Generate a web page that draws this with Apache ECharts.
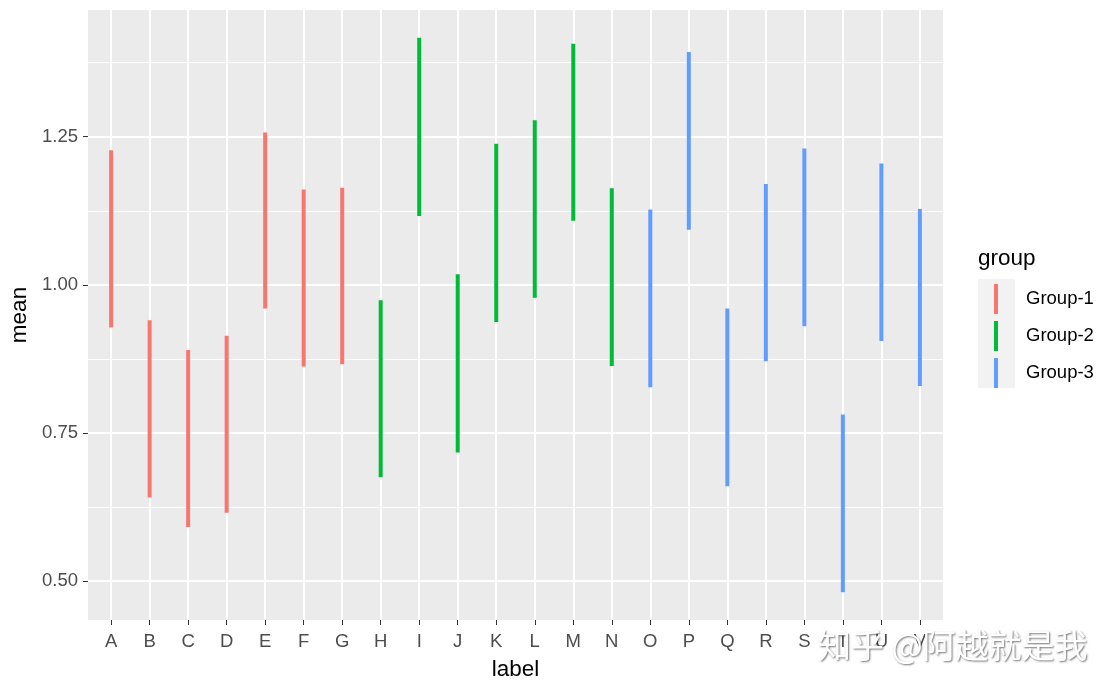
<!DOCTYPE html>
<html><head><meta charset="utf-8">
<script src="https://cdn.jsdelivr.net/npm/echarts@6/dist/echarts.min.js"></script>
<style>html,body{margin:0;padding:0;background:#fff}#c{width:1120px;height:692px}</style>
</head><body><div id="c"></div>
<script>
const categories = ['A','B','C','D','E','F','G','H','I','J','K','L','M','N','O','P','Q','R','S','T','U','V'];
const groupOf = ['Group-1','Group-1','Group-1','Group-1','Group-1','Group-1','Group-1',
  'Group-2','Group-2','Group-2','Group-2','Group-2','Group-2','Group-2',
  'Group-3','Group-3','Group-3','Group-3','Group-3','Group-3','Group-3','Group-3'];
const lower = [0.928,0.641,0.591,0.615,0.960,0.862,0.866,0.675,1.116,0.717,0.937,0.978,1.108,0.863,0.827,1.093,0.660,0.871,0.930,0.481,0.905,0.829];
const upper = [1.227,0.940,0.890,0.914,1.257,1.161,1.164,0.974,1.417,1.018,1.238,1.278,1.407,1.163,1.127,1.393,0.960,1.170,1.230,0.781,1.205,1.128];
const groupNames = ['Group-1','Group-2','Group-3'];
const groupColors = ['#F8766D','#00BA38','#619CFF'];
const yTicks = [0.5,0.75,1.0,1.25];
const yMinor = [0.625,0.875,1.125,1.375];
const yRange = [0.434,1.464];
const xRange = [-0.6,21.6];

const FONT = '"Liberation Sans", Arial, sans-serif';
const xIdx = categories.map((c,i)=>i);
const chart = echarts.init(document.getElementById('c'));

const series = groupNames.map((g,gi)=>({
  name: g,
  type: 'custom',
  itemStyle: {color: groupColors[gi]},
  encode: {x: 0, y: [1,2]},
  data: categories.map((c,i)=>[i, lower[i], upper[i]]).filter((d,i)=>groupOf[i]===g),
  renderItem: function(params, api){
    const p1 = api.coord([api.value(0), api.value(1)]);
    const p2 = api.coord([api.value(0), api.value(2)]);
    return {type:'line', shape:{x1:p1[0],y1:p1[1],x2:p2[0],y2:p2[1]},
      style:{stroke: groupColors[gi], lineWidth: 4, lineCap: 'butt'}};
  }
}));

chart.setOption({
  animation: false,
  grid: {left: 88, right: 177, top: 10, bottom: 72, show: true, backgroundColor: '#EBEBEB', borderWidth: 0},
  xAxis: {
    type: 'value', min: xRange[0], max: xRange[1],
    axisLine: {show: false, onZero: false},
    axisTick: {show: true, customValues: xIdx, length: 5, lineStyle: {color: '#333333', width: 1}},
    axisLabel: {customValues: xIdx, formatter: v => categories[Math.round(v)], color: '#4D4D4D', fontSize: 18.5, fontFamily: FONT, margin: 12},
    splitLine: {show: true, lineStyle: {color: '#FFFFFF', width: 2}},
    name: 'label', nameLocation: 'middle', nameGap: 38,
    nameTextStyle: {color: '#000', fontSize: 22.5, fontFamily: FONT}
  },
  yAxis: [{
    type: 'value', min: yRange[0], max: yRange[1],
    axisLine: {show: false, onZero: false},
    axisTick: {show: true, customValues: yTicks, length: 5, lineStyle: {color: '#333333', width: 1}},
    axisLabel: {customValues: yTicks, formatter: v => v.toFixed(2), color: '#4D4D4D', fontSize: 18.5, fontFamily: FONT, margin: 10},
    splitLine: {show: true, lineStyle: {color: '#FFFFFF', width: 2}},
    name: 'mean', nameLocation: 'middle', nameGap: 54,
    nameTextStyle: {color: '#000', fontSize: 22.5, fontFamily: FONT}
  },{
    type: 'value', min: yRange[0], max: yRange[1], position: 'left',
    axisLine: {show: false, onZero: false},
    axisTick: {show: false, customValues: yMinor},
    axisLabel: {show: false, customValues: yMinor},
    splitLine: {show: true, lineStyle: {color: '#FFFFFF', width: 1}}
  }],
  legend: {
    orient: 'vertical', left: 989, top: 279, itemWidth: 4, itemHeight: 30, itemGap: 7,
    icon: 'rect', selectedMode: false, data: groupNames,
    textStyle: {fontSize: 18.5, color: '#000', fontFamily: FONT, padding: [0,0,0,23]}
  },
  graphic: [
    {type: 'rect', left: 978, top: 279, shape: {width: 37, height: 109}, style: {fill: '#F2F2F2'}, z: 0},
    {type: 'text', left: 978, top: 247, style: {text: 'group', fontSize: 22.5, fontFamily: FONT, fill: '#000'}},
    {type: 'text', left: 818, top: 629, z: 100, style: {text: '知乎 @阿越就是我', fontSize: 33, fontFamily: '"Noto Sans CJK SC", sans-serif',
      fill: '#FFFFFF', textShadowColor: 'rgba(0,0,0,0.55)', textShadowBlur: 2, textShadowOffsetX: 1, textShadowOffsetY: 1}}
  ],
  series: series
});
</script></body></html>
